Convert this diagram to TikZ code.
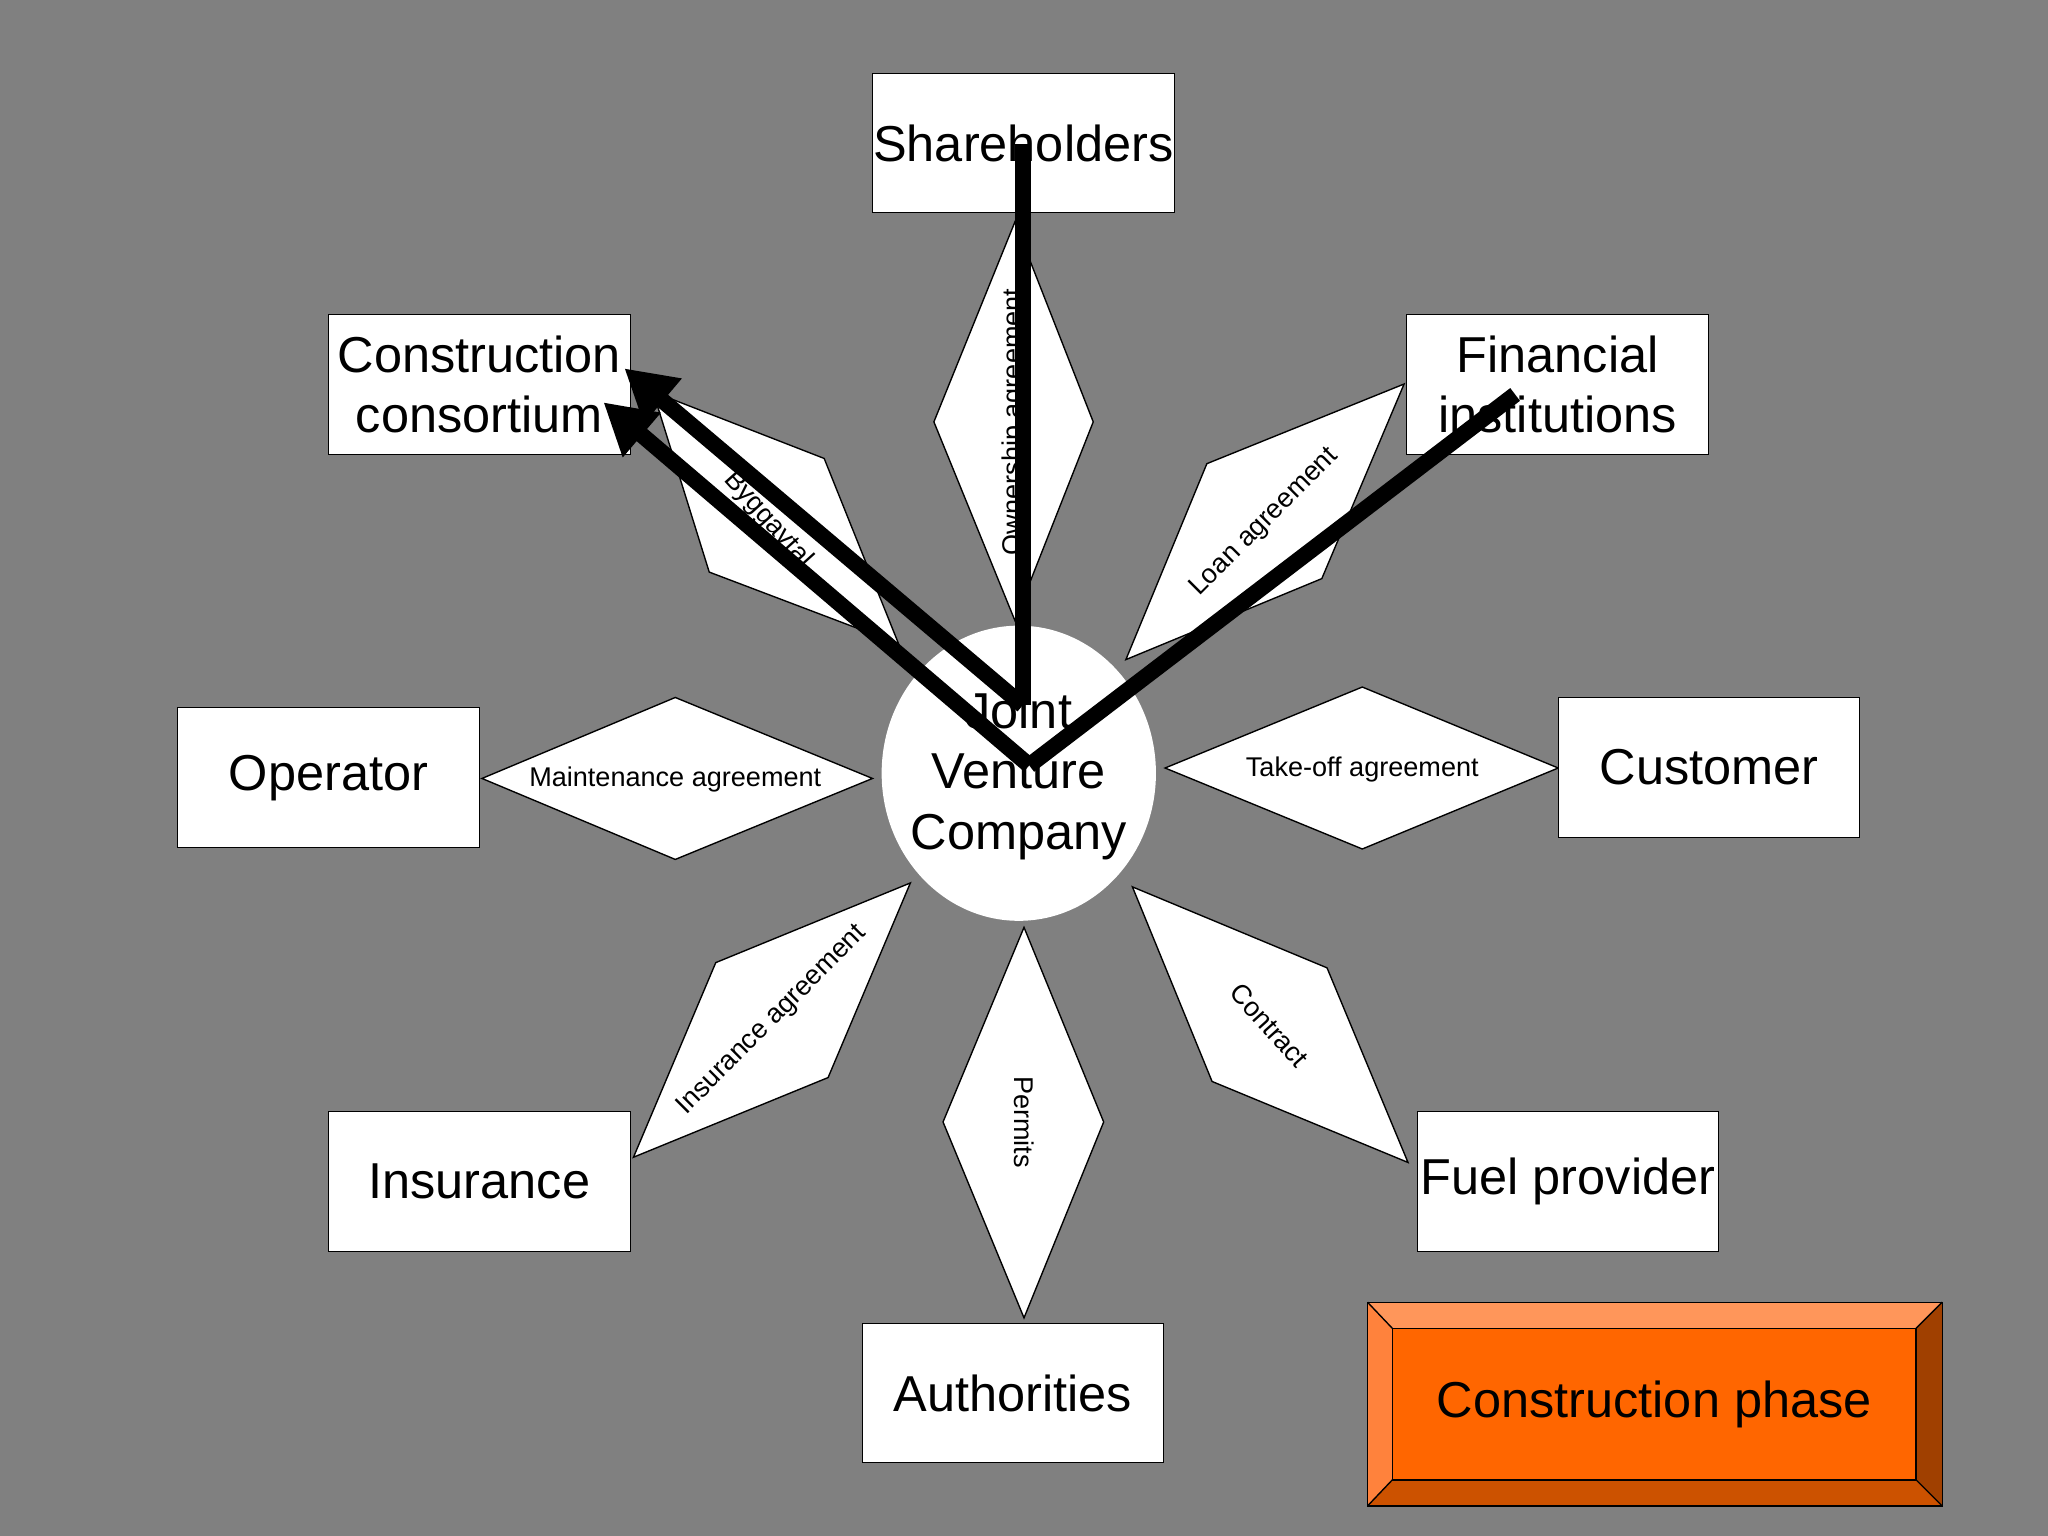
\documentclass[tikz,border=0pt]{standalone}
\usepackage{fontspec}
\setmainfont{Liberation Sans}
\usetikzlibrary{arrows.meta,shapes.geometric}
\begin{document}
\begin{tikzpicture}[x=0.02cm,y=-0.02cm,
 box/.style={draw=black,fill=white,minimum width=4.62cm,minimum height=2.14cm,align=center,font=\fontsize{22}{26}\selectfont,inner sep=0pt},
 dia/.style={draw=black,fill=white,line width=0.6pt},
 lbl/.style={font=\fontsize{11.8}{13}\selectfont,inner sep=0pt},
 thick line/.style={line width=7pt,black},
 arr/.style={thick line,-{Triangle[length=22pt,width=24pt]}}]
\fill[fill={rgb,255:red,128;green,128;blue,128}] (0,0) rectangle (1568,1176);
\useasboundingbox (0,0) rectangle (1568,1176);
% diamonds
\draw[dia] (777,170)--(837,323)--(777,475)--(715,323)--cycle;
\node[lbl,rotate=90] (own) at (777,323) {Ownership agreement};
\draw[dia] (500,300)--(631,351)--(688,493)--(543,438)--cycle;
\node[lbl,rotate=-48] (byg) at (588,398) {Byggavtal};
\draw[dia] (1075,294)--(1012,443)--(862,505)--(924,355)--cycle;
\node[lbl,rotate=45] (loan) at (968,400) {Loan agreement};
\draw[dia] (369,596)--(517,534)--(668,596)--(517,658)--cycle;
\node[lbl] (mnt) at (517,597) {Maintenance agreement};
\draw[dia] (892,588)--(1043,526)--(1193,588)--(1043,650)--cycle;
\node[lbl] (tko) at (1043,589) {Take-off agreement};
\draw[dia] (697,676)--(634,825)--(485,886)--(548,737)--cycle;
\node[lbl,rotate=45] (ins) at (591,781) {Insurance agreement};
\draw[dia] (784,710)--(845,859)--(784,1009)--(722,859)--cycle;
\node[lbl,rotate=-90] (per) at (784,859) {Permits};
\draw[dia] (867,679)--(1016,741)--(1078,890)--(928,828)--cycle;
\node[lbl,rotate=-48] (con) at (972,785) {Contract};
% center
\fill[white] (780,592) ellipse [x radius=105, y radius=113];
\node[align=center,inner sep=0pt,font=\fontsize{22}{26.5}\selectfont] (jv) at (780,594) {Joint\\Venture\\Company};
% boxes
\node[box] (sh) at (783.5,109.5) {Shareholders};
\node[box] (cc) at (367,294.5) {Construction\\consortium};
\node[box] (fi) at (1192.5,294.5) {Financial\\institutions};
\node[box] (op) at (251.5,595.5) {Operator};
\node[box] (cu) at (1308.5,587.5) {Customer};
\node[box] (in) at (367,904.5) {Insurance};
\node[box] (fp) at (1200.5,904.5) {Fuel provider};
\node[box] (au) at (775.5,1066.5) {Authorities};
% thick lines
\coordinate (s1) at (783,540);
\coordinate (s2) at (788,586);
\coordinate (e1) at (783,110);
\coordinate (e2) at (1160,302);
\coordinate (a1) at (478,282);
\coordinate (a2) at (462,308);
\draw[thick line] (s1) -- (e1);
\draw[thick line] (e2) -- (s2);
\draw[arr] (s1) -- (a1);
\draw[arr] (s2) -- (a2);
% button
\fill[fill={rgb,255:red,255;green,150;blue,90}] (1047,997)--(1487,997)--(1467,1017)--(1066,1017)--cycle;
\fill[fill={rgb,255:red,255;green,130;blue,60}] (1047,997)--(1066,1017)--(1066,1133)--(1047,1153)--cycle;
\fill[fill={rgb,255:red,160;green,64;blue,0}] (1487,997)--(1487,1153)--(1467,1133)--(1467,1017)--cycle;
\fill[fill={rgb,255:red,204;green,82;blue,0}] (1047,1153)--(1066,1133)--(1467,1133)--(1487,1153)--cycle;
\draw[black,line width=0.6pt] (1047,997) rectangle (1487,1153);
\node[draw=black,line width=0.6pt,fill={rgb,255:red,255;green,102;blue,0},minimum width=8.02cm,minimum height=2.32cm,inner sep=0pt,font=\fontsize{22}{26}\selectfont] (ph) at (1266.5,1075) {Construction phase};
\draw[black,line width=0.6pt] (1047,997)--(1066,1017) (1487,997)--(1467,1017) (1047,1153)--(1066,1133) (1487,1153)--(1467,1133);
\end{tikzpicture}
\end{document}
